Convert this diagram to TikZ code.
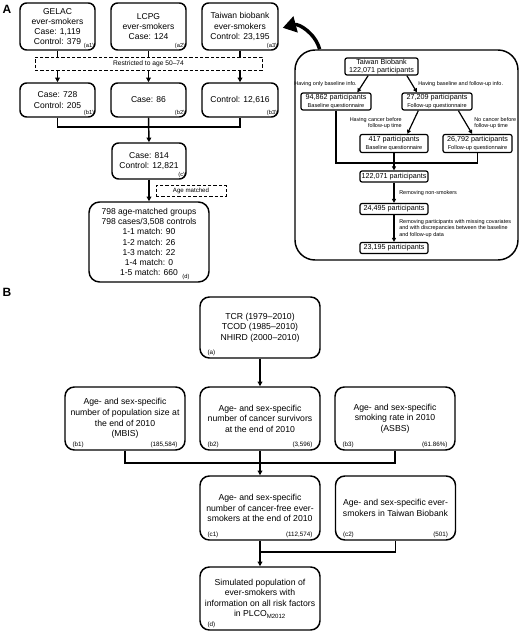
\documentclass[tikz,border=0pt]{standalone}
\usepackage{fontspec}
\setmainfont{Liberation Sans}
\usetikzlibrary{arrows.meta}

\newcommand{\smalltxt}[1]{{\fontsize{4.2}{4.8}\selectfont #1}}

\tikzset{
  panel/.style={font=\fontsize{9}{10}\selectfont\bfseries, inner sep=0pt},
  boxa/.style={draw, line width=1.1pt, rounded corners=5pt, align=center, inner sep=1pt, font=\fontsize{6.4}{7.7}\selectfont},
  boxb/.style={draw, line width=1.1pt, rounded corners=7pt, align=center, inner sep=1pt, minimum width=90pt, font=\fontsize{6.5}{7.9}\selectfont},
  dbox/.style={draw, line width=0.7pt, dash pattern=on 2.4pt off 1.6pt, fill=white, inner sep=0pt, font=\fontsize{5}{6}\selectfont},
  sbox/.style={draw, line width=0.9pt, rounded corners=1.5pt, align=center, inner sep=0.5pt, font=\fontsize{5.4}{6}\selectfont},
  tag/.style={inner sep=0pt, font=\fontsize{4.3}{5}\selectfont},
  tagb/.style={inner sep=0pt, font=\fontsize{4.7}{5}\selectfont},
  note/.style={inner sep=0pt, font=\fontsize{4.1}{4.9}\selectfont},
  link/.style={line width=1.1pt},
  arr/.style={line width=1.1pt, -{Triangle[length=3.5pt,width=3.5pt]}},
  thinarr/.style={line width=0.9pt, -{Triangle[length=3pt,width=3pt]}},
  bigarrow/.style={line width=2.6pt, -{Triangle[length=10pt,width=12pt]}}
}

\begin{document}
\begin{tikzpicture}[x=0.75pt, y=-0.75pt]
\useasboundingbox (0,0) rectangle (520,632);

% Panel A
\node[panel] (labA) at (7,9) {A};

% Source cohorts
\node[boxa, minimum width=56.25pt, minimum height=35.25pt] (a1) at (57.5,26.5) {GELAC\\ever-smokers\\Case: 1,119\\Control: 379};
\node[boxa, minimum width=56.25pt, minimum height=35.25pt] (a2) at (148.5,26.5) {LCPG\\ever-smokers\\Case: 124};
\node[boxa, minimum width=57pt, minimum height=35.25pt] (a3) at (240,26.5) {Taiwan biobank\\ever-smokers\\Control: 23,195};
\node[tag, anchor=south east] (a1t) at ([shift={(-1pt,1.5pt)}]a1.south east) {(a1)};
\node[tag, anchor=south east] (a2t) at ([shift={(-1pt,1.5pt)}]a2.south east) {(a2)};
\node[tag, anchor=south east] (a3t) at ([shift={(-1pt,1.5pt)}]a3.south east) {(a3)};

% After age restriction
\node[boxa, minimum width=56.25pt, minimum height=25.5pt] (b1) at (57.5,100) {Case: 728\\Control: 205};
\node[boxa, minimum width=56.25pt, minimum height=25.5pt] (b2) at (148.5,100) {Case: 86};
\node[boxa, minimum width=57pt, minimum height=25.5pt] (b3) at (240,100) {Control: 12,616};
\node[tag, anchor=south east] (b1t) at ([shift={(-1pt,1.5pt)}]b1.south east) {(b1)};
\node[tag, anchor=south east] (b2t) at ([shift={(-1pt,1.5pt)}]b2.south east) {(b2)};
\node[tag, anchor=south east] (b3t) at ([shift={(-1pt,1.5pt)}]b3.south east) {(b3)};

\draw[arr] (a1.south) -- (b1.north);
\draw[arr] (a2.south) -- (b2.north);
\draw[arr] (a3.south) -- (b3.north);
\node[dbox, minimum width=170.25pt, minimum height=9.75pt] (restrict) at (148.5,63.5) {Restricted to age 50--74};

% Pooled data
\coordinate (jA) at (0,127);
\node[boxa, minimum width=55.5pt, minimum height=27pt] (c) at (149,161) {Case: 814\\Control: 12,821};
\node[tag, anchor=south east] (ct) at ([shift={(-1pt,1.5pt)}]c.south east) {(c)};
\draw[link] (b1.south) -- (b1.south |- jA) -- (b3.south |- jA) -- (b3.south);
\draw[arr] (b2.south) -- (c.north);

% Matching
\node[boxa, rounded corners=8pt, minimum width=90pt, minimum height=60pt] (d) at (149,242) {798 age-matched groups\\798 cases/3,508 controls\\1-1 match: 90\\1-2 match: 26\\1-3 match: 22\\1-4 match: 0\\1-5 match: 660};
\node[tag, anchor=south east] (dt) at ([shift={(-15pt,2pt)}]d.south east) {(d)};
\draw[arr] (c.south) -- (d.north);
\node[dbox, font=\fontsize{4.6}{5}\selectfont, minimum width=52.5pt, minimum height=8.5pt] (agem) at (191,191) {Age matched};

% Inset: Taiwan Biobank selection
\node[draw, line width=1.1pt, rounded corners=15pt, minimum width=167.25pt, minimum height=157.5pt] (inset) at (406.5,155) {};
\draw[bigarrow] ([xshift=19pt]inset.north west) to[out=105, in=15] ([xshift=3pt, yshift=-1pt]a3.east);

\node[sbox, minimum width=54.75pt, minimum height=12.75pt] (tb) at (381.5,66.5) {Taiwan Biobank\\122,071 participants};
\node[sbox, minimum width=52.5pt, minimum height=12.75pt] (p94862) at (336,101.5) {94,862 participants\\\smalltxt{Baseline questionnaire}};
\node[sbox, minimum width=52.5pt, minimum height=12.75pt] (p27209) at (437,101.5) {27,209 participants\\\smalltxt{Follow-up questionnaire}};
\node[sbox, minimum width=51pt, minimum height=13.5pt] (p417) at (394,143.5) {417 participants\\\smalltxt{Baseline questionnaire}};
\node[sbox, minimum width=51.75pt, minimum height=13.5pt] (p26792) at (477.5,143.5) {26,792 participants\\\smalltxt{Follow-up questionnaire}};
\node[sbox, minimum width=51pt, minimum height=8.25pt] (p122071) at (394,176.5) {122,071 participants};
\node[sbox, minimum width=51pt, minimum height=8.25pt] (p24495) at (394,209) {24,495 participants};
\node[sbox, minimum width=51pt, minimum height=8.25pt] (p23195) at (394,248) {23,195 participants};

\draw[thinarr] ([xshift=-10pt]tb.south) -- ([xshift=16pt]p94862.north);
\draw[thinarr] ([xshift=19pt]tb.south) -- ([xshift=-15pt]p27209.north);
\draw[thinarr] ([xshift=-14pt]p27209.south) -- ([xshift=10pt]p417.north);
\draw[thinarr] ([xshift=16pt]p27209.south) -- ([xshift=-4pt]p26792.north);
\node[note, anchor=east] (n1) at (357,84) {Having only baseline info.};
\node[note, anchor=west] (n2) at (418,84) {Having baseline and follow-up info.};
\node[note, anchor=east, align=right] (n3) at (402,123) {Having cancer before\\follow-up time};
\node[note, anchor=west, align=left] (n4) at (474,123) {No cancer before\\follow-up time};

% Merge back
\coordinate (jI) at (0,163);
\draw[line width=0.9pt] (p94862.south) -- (p94862.south |- jI) -- (p26792.south |- jI) -- (p26792.south);
\draw[thinarr] (p417.south) -- (p122071.north);
\draw[thinarr] (p122071.south) -- (p24495.north);
\draw[thinarr] (p24495.south) -- (p23195.north);
\node[note, anchor=west] (n5) at (399,193) {Removing non-smokers};
\node[note, anchor=west, align=left] (n6) at (399,228.5) {Removing participants with missing covariates\\and with discrepancies between the baseline\\and follow-up data};

% Panel B
\node[panel] (labB) at (7,292) {B};

\node[boxb, minimum height=45.75pt] (ba) at (260,327.5) {TCR (1979--2010)\\TCOD (1985--2010)\\NHIRD (2000--2010)};
\node[tagb, anchor=south west] (bat) at ([shift={(6pt,2pt)}]ba.south west) {(a)};

% Age- and sex-specific inputs
\node[boxb, minimum height=47.25pt] (bb1) at (125,418.5) {Age- and sex-specific\\number of population size at\\the end of 2010\\(MBIS)};
\node[boxb, minimum height=47.25pt] (bb2) at (260,418.5) {Age- and sex-specific\\number of cancer survivors\\at the end of 2010};
\node[boxb, minimum height=47.25pt] (bb3) at (395,418.5) {Age- and sex-specific\\smoking rate in 2010\\(ASBS)};
\node[tagb, anchor=south west] (bb1t) at ([shift={(6pt,2pt)}]bb1.south west) {(b1)};
\node[tagb, anchor=south east] (bb1v) at ([shift={(-6pt,2pt)}]bb1.south east) {(185,584)};
\node[tagb, anchor=south west] (bb2t) at ([shift={(6pt,2pt)}]bb2.south west) {(b2)};
\node[tagb, anchor=south east] (bb2v) at ([shift={(-6pt,2pt)}]bb2.south east) {(3,596)};
\node[tagb, anchor=south west] (bb3t) at ([shift={(6pt,2pt)}]bb3.south west) {(b3)};
\node[tagb, anchor=south east] (bb3v) at ([shift={(-6pt,2pt)}]bb3.south east) {(61.86\%)};
\draw[arr] (ba.south) -- (bb2.north);

% Ever-smokers
\coordinate (jB1) at (0,463);
\node[boxb, minimum height=48pt] (bc1) at (260,508) {Age- and sex-specific\\number of cancer-free ever-\\smokers at the end of 2010};
\node[boxb, minimum height=48pt] (bc2) at (395.5,508) {Age- and sex-specific ever-\\smokers in Taiwan Biobank};
\node[tagb, anchor=south west] (bc1t) at ([shift={(6pt,2pt)}]bc1.south west) {(c1)};
\node[tagb, anchor=south east] (bc1v) at ([shift={(-6pt,2pt)}]bc1.south east) {(112,574)};
\node[tagb, anchor=south west] (bc2t) at ([shift={(6pt,2pt)}]bc2.south west) {(c2)};
\node[tagb, anchor=south east] (bc2v) at ([shift={(-6pt,2pt)}]bc2.south east) {(501)};
\draw[link] (bb1.south) -- (bb1.south |- jB1) -- (bb3.south |- jB1) -- (bb3.south);
\draw[arr] (bb2.south) -- (bc1.north);

% Simulated population
\coordinate (jB2) at (0,552);
\node[boxb, minimum height=47.25pt] (bd) at (260,598.5) {Simulated population of\\ever-smokers with\\information on all risk factors\\in PLCO\textsubscript{M2012}};
\node[tagb, anchor=south west] (bdt) at ([shift={(6pt,2pt)}]bd.south west) {(d)};
\draw[link] (bc2.south) -- (bc2.south |- jB2) -- (bc1.south |- jB2);
\draw[arr] (bc1.south) -- (bd.north);
\end{tikzpicture}
\end{document}
